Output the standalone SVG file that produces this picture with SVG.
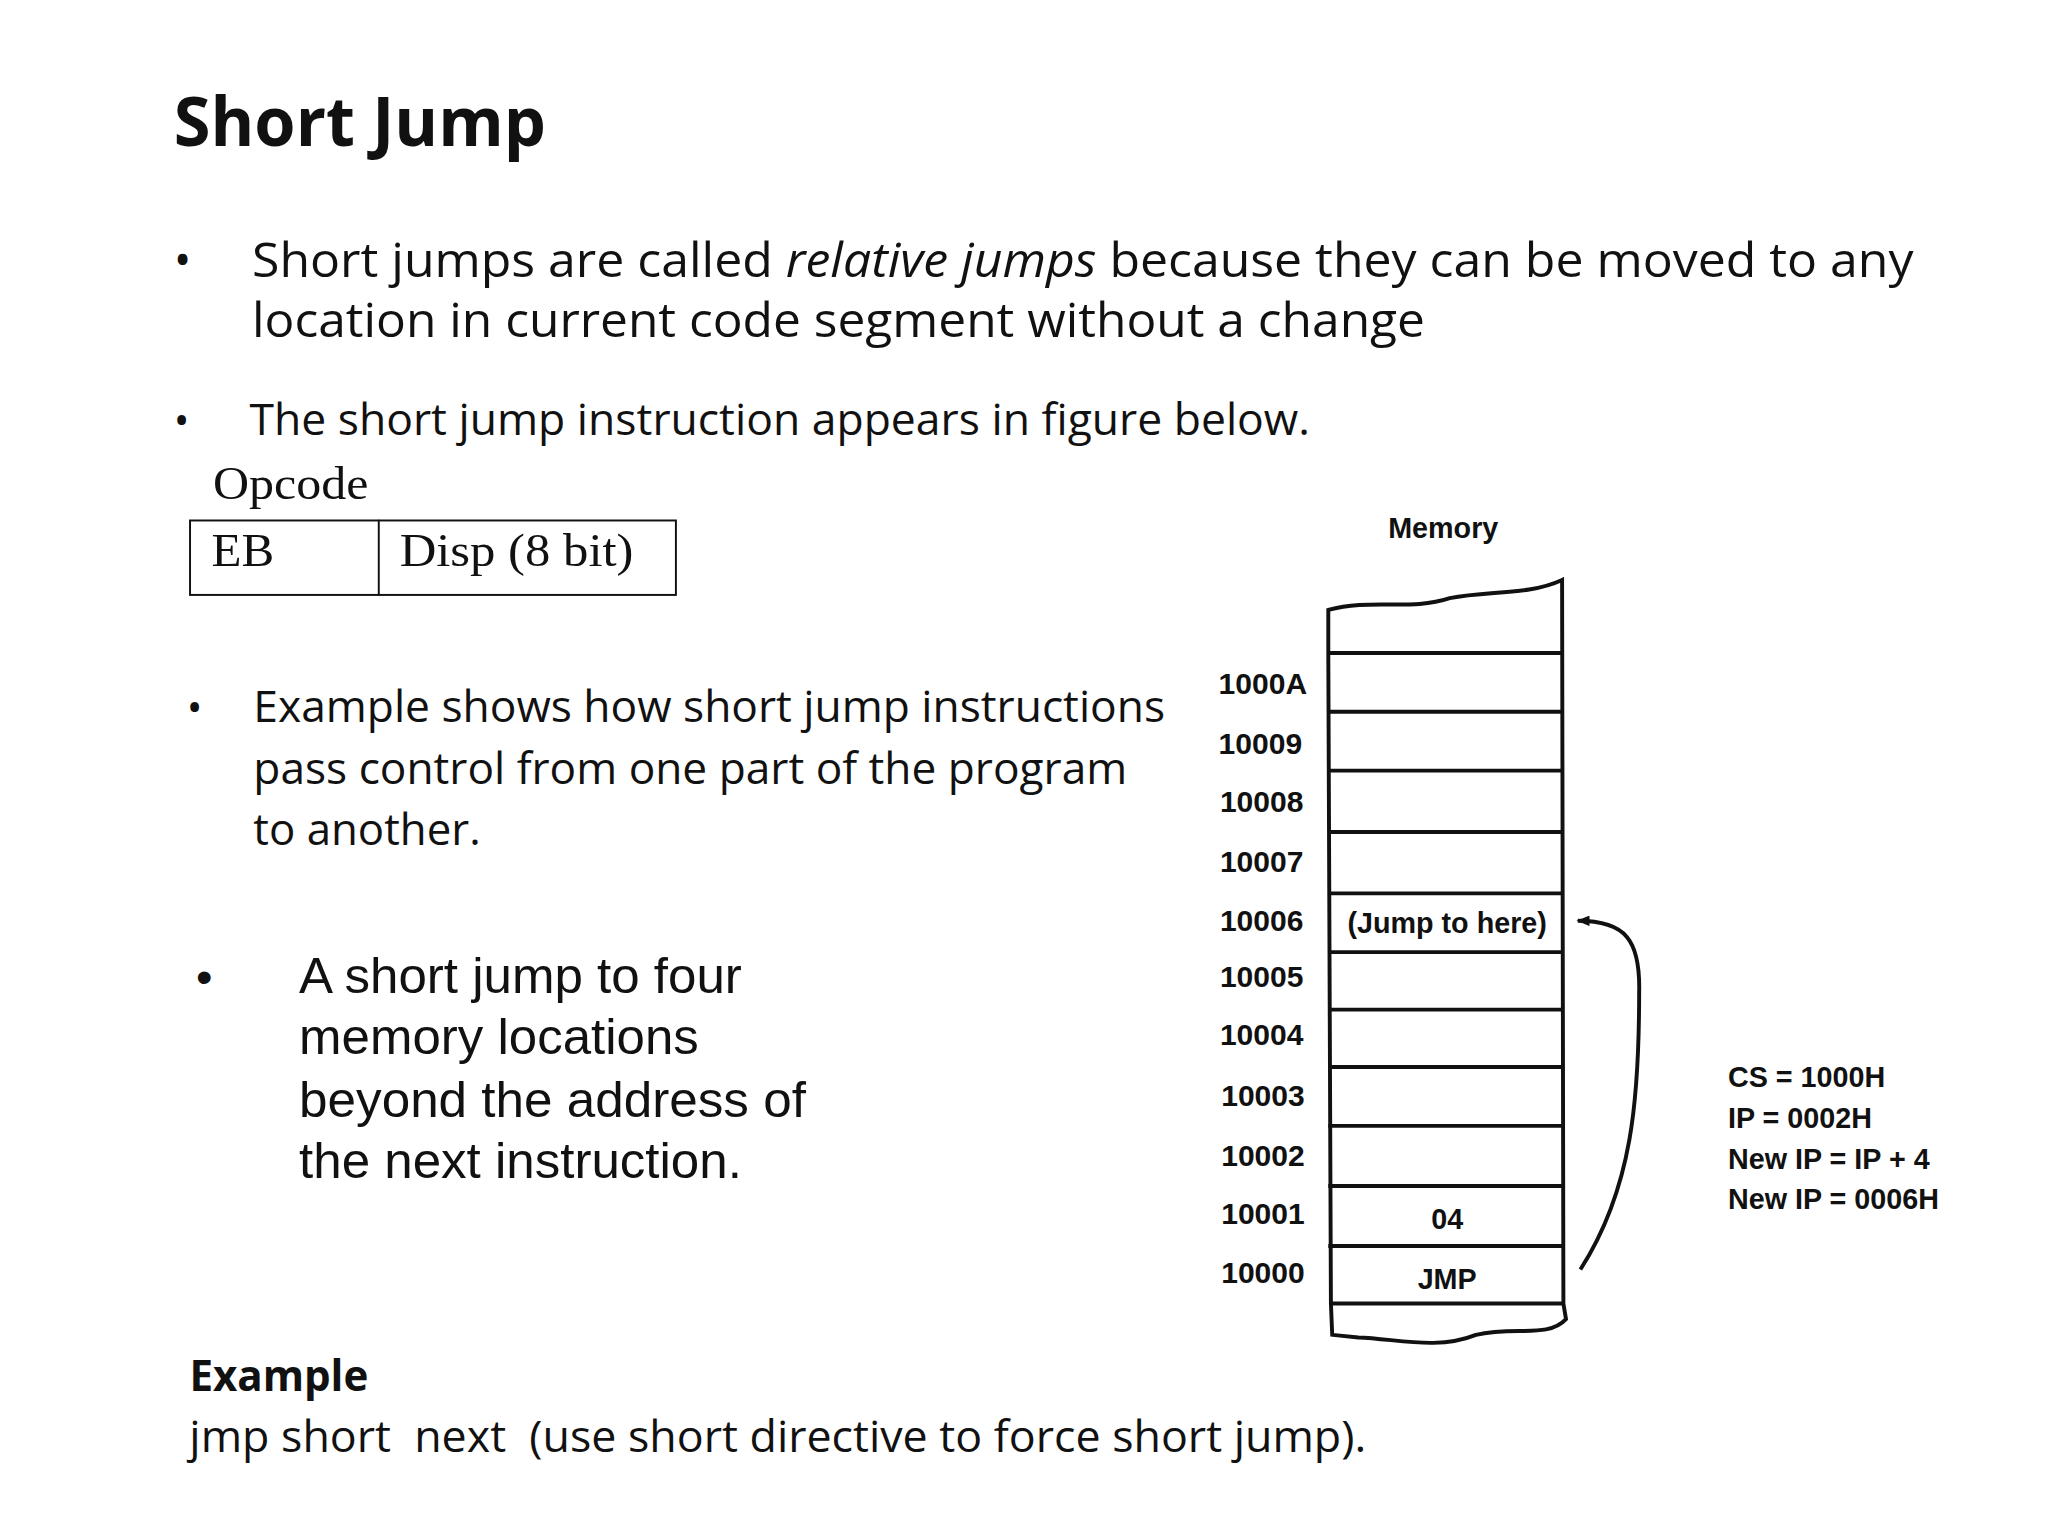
<svg xmlns="http://www.w3.org/2000/svg" width="2048" height="1536" viewBox="0 0 2048 1536">
<style>
.c{font-family:"Open Sans","Noto Sans",sans-serif;fill:#111}
.a{font-family:"Liberation Sans",Arial,sans-serif;fill:#111}
.t{font-family:"Liberation Serif","Times New Roman",serif;fill:#111}
.l{fill:none;stroke:#111;stroke-width:3}
</style>
<defs><marker id="ah" markerWidth="10" markerHeight="8" refX="9" refY="4" orient="auto" markerUnits="userSpaceOnUse"><path d="M0,0 L10,4 L0,8 Z" fill="#111"/></marker></defs>
<rect width="2048" height="1536" fill="#fff"/>
<g transform="scale(1.3061)">
<text class="c" x="133" y="112" font-size="52" font-weight="bold" textLength="285" lengthAdjust="spacingAndGlyphs">Short Jump</text>
<text class="c" x="133" y="212" font-size="36">•</text>
<text class="c" x="193" y="212" font-size="37" textLength="1272" lengthAdjust="spacingAndGlyphs">Short jumps are called <tspan font-style="italic">relative jumps</tspan> because they can be moved to any</text>
<text class="c" x="193" y="258" font-size="37" textLength="898" lengthAdjust="spacingAndGlyphs">location in current code segment without a change</text>
<text class="c" x="133" y="333" font-size="32">•</text>
<text class="c" x="191" y="333" font-size="33" textLength="812" lengthAdjust="spacingAndGlyphs">The short jump instruction appears in figure below.</text>
<g id="opcode">
<text class="t" x="163" y="382" font-size="36" textLength="119" lengthAdjust="spacingAndGlyphs">Opcode</text>
<rect x="145.5" y="398.5" width="372" height="57" fill="none" stroke="#111" stroke-width="1.5"/>
<line x1="290" y1="398" x2="290" y2="456" stroke="#111" stroke-width="1.5"/>
<text class="t" x="162" y="433" font-size="36" textLength="48" lengthAdjust="spacingAndGlyphs">EB</text>
<text class="t" x="306" y="433" font-size="36" textLength="179" lengthAdjust="spacingAndGlyphs">Disp (8 bit)</text>
</g>
<text class="c" x="143" y="553" font-size="32">•</text>
<text class="c" x="194" y="553" font-size="33" textLength="698" lengthAdjust="spacingAndGlyphs">Example shows how short jump instructions</text>
<text class="c" x="194" y="600" font-size="33" textLength="669" lengthAdjust="spacingAndGlyphs">pass control from one part of the program</text>
<text class="c" x="194" y="647" font-size="33" textLength="174" lengthAdjust="spacingAndGlyphs">to another.</text>
<text class="a" x="150" y="760" font-size="36">•</text>
<text class="a" x="229" y="760" font-size="38" textLength="339" lengthAdjust="spacingAndGlyphs">A short jump to four</text>
<text class="a" x="229" y="807" font-size="38" textLength="306" lengthAdjust="spacingAndGlyphs">memory locations</text>
<text class="a" x="229" y="855" font-size="38" textLength="388" lengthAdjust="spacingAndGlyphs">beyond the address of</text>
<text class="a" x="229" y="902" font-size="38" textLength="339" lengthAdjust="spacingAndGlyphs">the next instruction.</text>
<text class="c" x="145" y="1065" font-size="33" font-weight="bold" textLength="137" lengthAdjust="spacingAndGlyphs">Example</text>
<text class="c" x="145" y="1112" font-size="33" xml:space="preserve" textLength="901" lengthAdjust="spacingAndGlyphs">jmp short  next  (use short directive to force short jump).</text>
<g id="memory">
<text class="a" x="1105" y="412" font-size="22" font-weight="bold" text-anchor="middle">Memory</text>
<path class="l" d="M1017,500 L1017,467 C1050,458 1080,468 1110,458 C1140,452 1170,456 1196,444 L1197,998 L1199,1010 C1185,1025 1160,1015 1130,1022 C1100,1034 1070,1025 1040,1024 L1020,1022 L1019,998 Z"/>
<g stroke="#111" stroke-width="3">
<line x1="1017" y1="500" x2="1197" y2="500"/><line x1="1017" y1="545" x2="1197" y2="545"/><line x1="1017" y1="590" x2="1197" y2="590"/><line x1="1017" y1="637" x2="1197" y2="637"/><line x1="1017" y1="684" x2="1197" y2="684"/><line x1="1017" y1="729" x2="1197" y2="729"/><line x1="1017" y1="773" x2="1197" y2="773"/><line x1="1017" y1="817" x2="1197" y2="817"/><line x1="1017" y1="862" x2="1197" y2="862"/><line x1="1017" y1="908" x2="1197" y2="908"/><line x1="1017" y1="954" x2="1197" y2="954"/><line x1="1019" y1="998" x2="1197" y2="998"/>
</g>
<g class="a" font-size="23" font-weight="bold">
<text x="933" y="531">1000A</text><text x="933" y="577">10009</text><text x="934" y="622">10008</text><text x="934" y="668">10007</text><text x="934" y="713">10006</text><text x="934" y="756">10005</text><text x="934" y="800">10004</text><text x="935" y="847">10003</text><text x="935" y="893">10002</text><text x="935" y="937">10001</text><text x="935" y="982">10000</text>
</g>
<text class="a" x="1108" y="714" font-size="22" font-weight="bold" text-anchor="middle">(Jump to here)</text>
<text class="a" x="1108" y="941" font-size="22" font-weight="bold" text-anchor="middle">04</text>
<text class="a" x="1108" y="987" font-size="22" font-weight="bold" text-anchor="middle">JMP</text>
</g>
<g id="connectors">
<path class="l" d="M1210,972 C1250,910 1255,840 1255,760 C1256,720 1245,705 1208,705" marker-end="url(#ah)"/>
</g>
<g class="a" font-size="22" font-weight="bold">
<text x="1323" y="832">CS = 1000H</text>
<text x="1323" y="864">IP = 0002H</text>
<text x="1323" y="895">New IP = IP + 4</text>
<text x="1323" y="926">New IP = 0006H</text>
</g>
</g>
</svg>
